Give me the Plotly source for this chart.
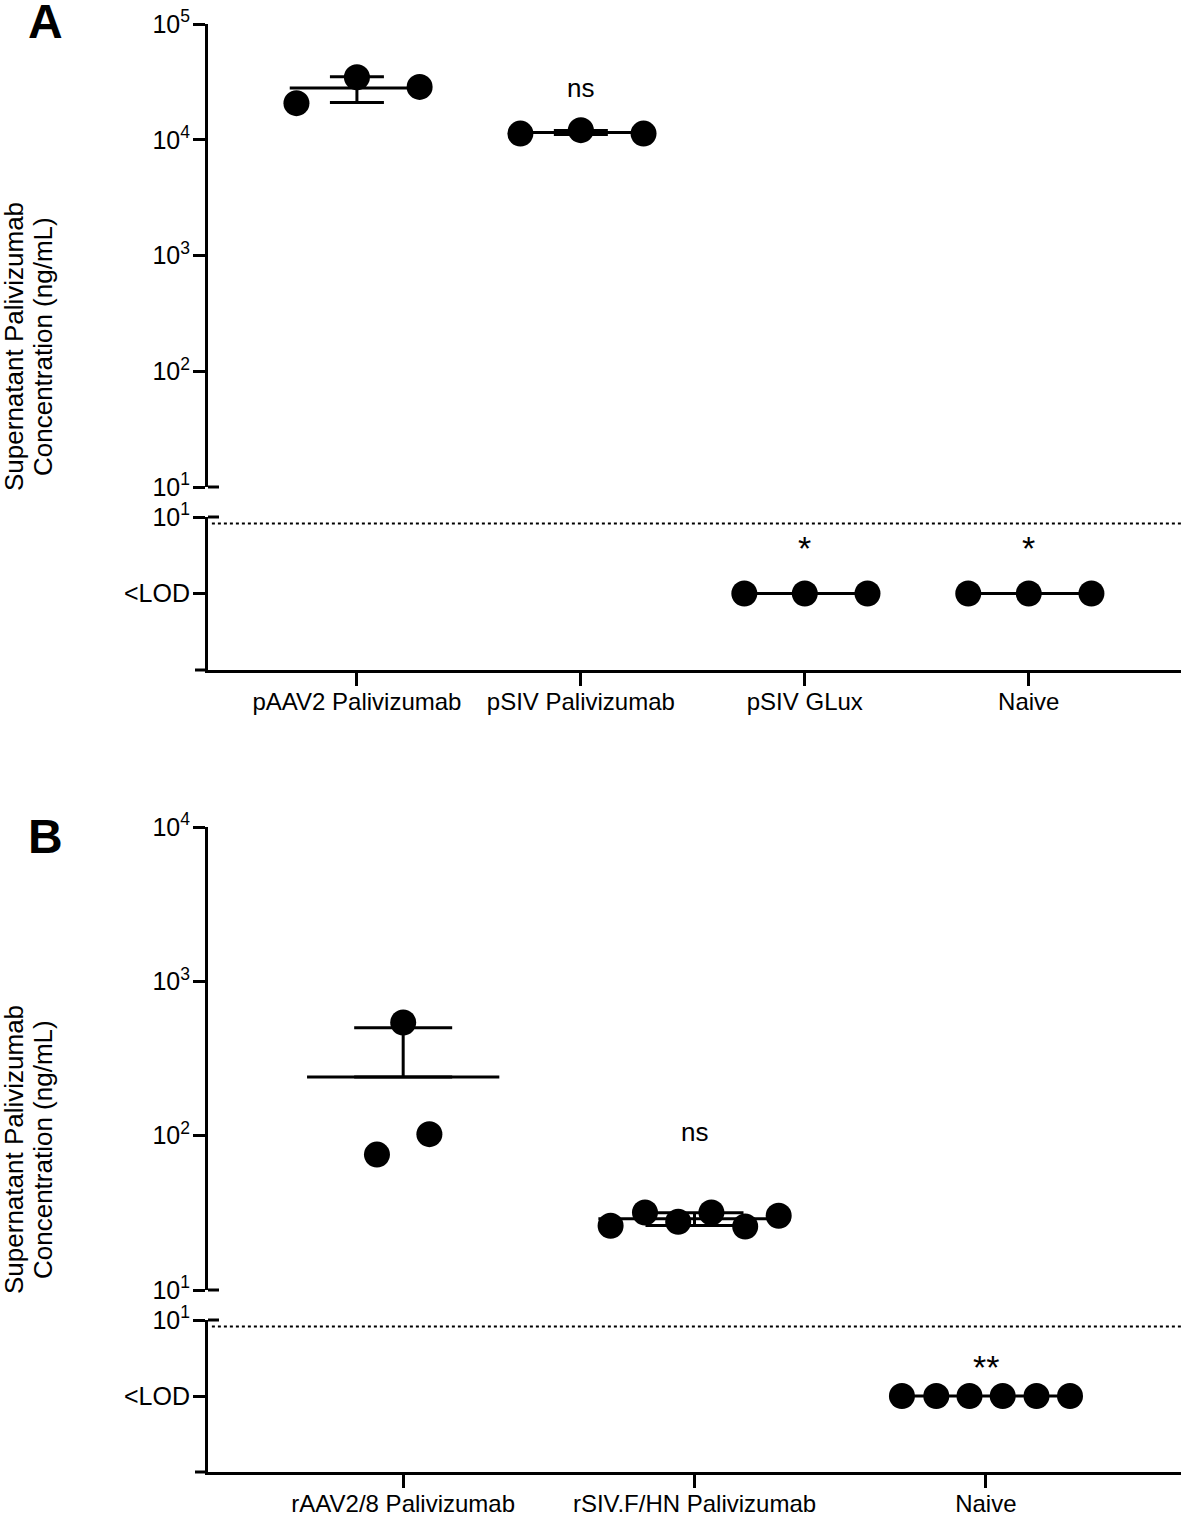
import numpy as np
import plotly.graph_objects as go

# ---------------- data ----------------
a_categories = ["pAAV2 Palivizumab", "pSIV Palivizumab", "pSIV GLux", "Naive"]
a_paav2 = [20700, 34700, 28600]          # ng/mL
a_psiv = [11300, 12100, 11300]           # ng/mL
a_glux = ["<LOD", "<LOD", "<LOD"]
a_naive = ["<LOD", "<LOD", "<LOD"]
a_sig = ["ns", "*", "*"]                 # for categories 1,2,3

b_categories = ["rAAV2/8 Palivizumab", "rSIV.F/HN Palivizumab", "Naive"]
b_raav = [75.4, 541, 102.3]              # ng/mL
b_rsiv = [26.1, 31.8, 27.7, 31.8, 25.8, 30.3]
b_naive = ["<LOD", "<LOD", "<LOD", "<LOD", "<LOD", "<LOD"]
b_sig = ["ns", "**"]                     # for categories 1,2

a_upper_ticks = [10, 100, 1000, 10000, 100000]
a_upper_ticktext = ["10<sup>1</sup>", "10<sup>2</sup>", "10<sup>3</sup>", "10<sup>4</sup>", "10<sup>5</sup>"]
b_upper_ticks = [10, 100, 1000, 10000]
b_upper_ticktext = ["10<sup>1</sup>", "10<sup>2</sup>", "10<sup>3</sup>", "10<sup>4</sup>"]
lower_ticktext = ["<LOD", "10<sup>1</sup>"]

# ---------------- layout helpers (positions / styles) ----------------
W, H = 1181, 1520
FONT = "Liberation Sans, Arial, sans-serif"
LOD_LEVEL = 0.5        # position of <LOD on the lower (broken) axis
LOD_LINE = 0.958       # dotted detection-limit line on the lower axis
A_OFFS3 = [-0.27, 0.0, 0.28]
B_OFFS3 = [-0.09, 0.0, 0.09]
B_OFFS6 = [-0.288, -0.17, -0.056, 0.058, 0.174, 0.289]


def py(px):
    return 1 - px / H


AX_X = 208 / W
XDOM = [AX_X, 1.0]

fig = go.Figure()


def to_lower(vals):
    return [LOD_LEVEL for v in vals]


def add_group(xa, ya, c, vals, offs, hw, cap, lod=False):
    if lod:
        yv = to_lower(vals)
        m = LOD_LEVEL
        sd = None
    else:
        arr = np.array(vals, dtype=float)
        yv = list(arr)
        m = float(arr.mean())
        sd = float(arr.std(ddof=1))
    # mean line
    fig.add_trace(go.Scatter(x=[c - hw, c + hw], y=[m, m], mode="lines",
                             line=dict(color="black", width=3),
                             xaxis=xa, yaxis=ya, showlegend=False, hoverinfo="skip"))
    # SD error bar
    if sd is not None:
        minus = sd if m - sd > 0 else 0.0
        fig.add_trace(go.Scatter(x=[c], y=[m], mode="markers",
                                 marker=dict(size=1, color="rgba(0,0,0,0)"),
                                 error_y=dict(type="data", symmetric=False, array=[sd],
                                              arrayminus=[minus], width=cap,
                                              thickness=3, color="black"),
                                 xaxis=xa, yaxis=ya, showlegend=False, hoverinfo="skip"))
    # points
    fig.add_trace(go.Scatter(x=[c + o for o in offs], y=yv, mode="markers",
                             marker=dict(size=26, color="black", line=dict(width=0)),
                             xaxis=xa, yaxis=ya, showlegend=False))


# Panel A
add_group("x", "y", 0, a_paav2, A_OFFS3, 0.3, 27)
add_group("x", "y", 1, a_psiv, A_OFFS3, 0.3, 27)
add_group("x", "y2", 2, a_glux, A_OFFS3, 0.3, 27, lod=True)
add_group("x", "y2", 3, a_naive, A_OFFS3, 0.3, 27, lod=True)
# Panel B
add_group("x2", "y3", 0, b_raav, B_OFFS3, 0.33, 49)
add_group("x2", "y3", 1, b_rsiv, B_OFFS6, 0.33, 49)
add_group("x2", "y4", 2, b_naive, B_OFFS6, 0.33, 49, lod=True)

tickfont = dict(family=FONT, size=25, color="black")
yaxis_common = dict(showline=True, linecolor="black", linewidth=3, ticks="outside",
                    ticklen=12, tickwidth=3, tickcolor="black", showgrid=False,
                    zeroline=False, tickfont=tickfont, fixedrange=True,
                    ticklabelstandoff=-2)
xaxis_common = dict(showline=True, linecolor="black", linewidth=3, ticks="outside",
                    ticklen=13, tickwidth=3, tickcolor="black", showgrid=False,
                    zeroline=False, tickfont=dict(family=FONT, size=24, color="black"),
                    domain=XDOM, fixedrange=True, ticklabelstandoff=-5)

fig.update_layout(
    width=W, height=H, autosize=False,
    margin=dict(l=0, r=0, t=0, b=0, pad=0, autoexpand=False),
    paper_bgcolor="white", plot_bgcolor="white",
    font=dict(family=FONT, color="black"),
    xaxis=dict(**xaxis_common, anchor="y2", range=[-0.665, 3.68],
               tickvals=[0, 1, 2, 3], ticktext=a_categories),
    xaxis2=dict(**xaxis_common, anchor="y4", range=[-0.67, 2.67],
                tickvals=[0, 1, 2], ticktext=b_categories),
    yaxis=dict(**yaxis_common, type="log", range=[1, 5], domain=[py(487), py(24)],
               anchor="x", tickvals=a_upper_ticks, ticktext=a_upper_ticktext),
    yaxis2=dict(**yaxis_common, range=[0, 1], domain=[py(670), py(517)], anchor="x",
                tickvals=[LOD_LEVEL, 1.0], ticktext=lower_ticktext),
    yaxis3=dict(**yaxis_common, type="log", range=[1, 4], domain=[py(1290), py(827)],
                anchor="x2", tickvals=b_upper_ticks, ticktext=b_upper_ticktext),
    yaxis4=dict(**yaxis_common, range=[0, 1], domain=[py(1472), py(1320)], anchor="x2",
                tickvals=[LOD_LEVEL, 1.0], ticktext=lower_ticktext),
)

# axis-break crossbars, x-axis left stubs, detection-limit dotted lines
shapes = []
for yref, yv in [("y domain", 0), ("y2 domain", 1), ("y3 domain", 0), ("y4 domain", 1)]:
    shapes.append(dict(type="line", xref="paper", yref=yref, x0=AX_X, x1=AX_X + 11 / W,
                       y0=yv, y1=yv, line=dict(color="black", width=3)))
for yref in ["y2 domain", "y4 domain"]:
    shapes.append(dict(type="line", xref="paper", yref=yref, x0=195 / W, x1=AX_X,
                       y0=0, y1=0, line=dict(color="black", width=3)))
for xref, yref in [("x domain", "y2"), ("x2 domain", "y4")]:
    shapes.append(dict(type="line", xref=xref, yref=yref, x0=0.004, x1=1,
                       y0=LOD_LINE, y1=LOD_LINE, line=dict(color="black", width=2, dash="dot")))
fig.update_layout(shapes=shapes)

ann = []
sigfont = dict(family=FONT, size=26, color="black")
starfont = dict(family=FONT, size=34, color="black")
# significance labels
ann.append(dict(x=1, y=0.898, xref="x", yref="y domain", text=a_sig[0], showarrow=False, font=sigfont))
ann.append(dict(x=2, y=0.80, xref="x", yref="y2", text=a_sig[1], showarrow=False, font=starfont))
ann.append(dict(x=3, y=0.80, xref="x", yref="y2", text=a_sig[2], showarrow=False, font=starfont))
ann.append(dict(x=1, y=0.341, xref="x2", yref="y3 domain", text=b_sig[0], showarrow=False, font=sigfont))
ann.append(dict(x=2, y=0.69, xref="x2", yref="y4", text=b_sig[1], showarrow=False, font=starfont))
# panel letters
for letter, yc in [("A", 22), ("B", 836)]:
    ann.append(dict(x=45 / W, y=py(yc), xref="paper", yref="paper", text="<b>%s</b>" % letter,
                    showarrow=False, font=dict(family=FONT, size=48, color="black"),
                    xanchor="center", yanchor="middle"))
# y-axis titles (two lines each)
for yc in [347, 1150]:
    ann.append(dict(x=14 / W, y=py(yc), xref="paper", yref="paper", text="Supernatant Palivizumab",
                    textangle=-90, showarrow=False, font=dict(family=FONT, size=26, color="black"),
                    xanchor="center", yanchor="middle"))
    ann.append(dict(x=43 / W, y=py(yc), xref="paper", yref="paper", text="Concentration (ng/mL)",
                    textangle=-90, showarrow=False, font=dict(family=FONT, size=26, color="black"),
                    xanchor="center", yanchor="middle"))
fig.update_layout(annotations=ann)

post = """
document.documentElement.style.margin='0';
document.documentElement.style.padding='0';
document.documentElement.style.overflow='hidden';
document.body.style.margin='0';
document.body.style.padding='0';
document.body.style.overflow='hidden';
"""
fig.write_html("out.html", config={"responsive": False, "displayModeBar": False},
               post_script=post)
